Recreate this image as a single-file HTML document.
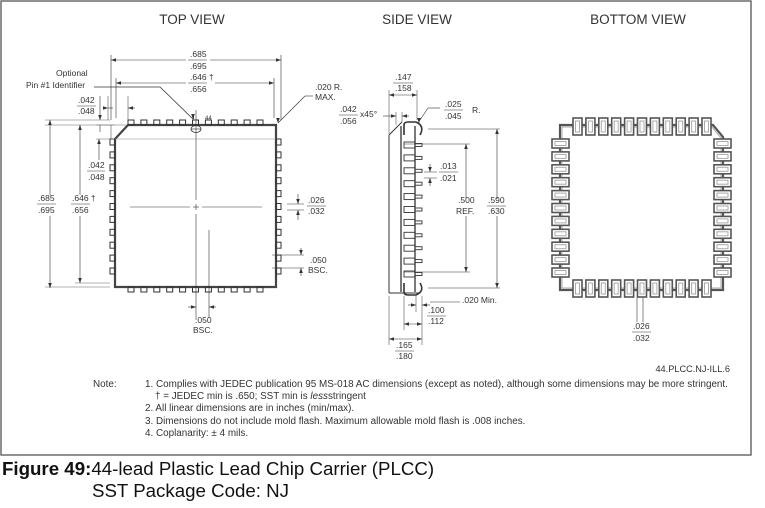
<!DOCTYPE html>
<html><head><meta charset="utf-8"><style>
body{margin:0;background:#fff;width:765px;height:508px;overflow:hidden;font-family:"Liberation Sans",sans-serif}
svg text{font-family:"Liberation Sans",sans-serif;fill:#333}
.s{font-size:8.5px}
.n{font-size:9.9px}
.cap{position:absolute;left:2px;font-size:18.7px;color:#111}
</style></head><body>
<svg id="d" width="765" height="508" style="position:absolute;left:0;top:0" xmlns="http://www.w3.org/2000/svg">
<rect x="1" y="1" width="750" height="454" fill="none" stroke="#555" stroke-width="1.3"/>
<g font-size="13">
<text x="192" y="24" text-anchor="middle" style="font-size:13.5px">TOP VIEW</text>
<text x="417" y="24" text-anchor="middle" style="font-size:13.5px">SIDE VIEW</text>
<text x="638" y="24" text-anchor="middle" style="font-size:13.5px">BOTTOM VIEW</text>
</g>
<g id="tv" stroke="#333" fill="none"></g>
<g id="sv" stroke="#333" fill="none"></g>
<g id="bv" fill="none"></g>
<g class="s">
<text x="190" y="57" class="s">.685</text><line x1="188" y1="60" x2="207" y2="60" stroke="#333" stroke-width=".6"/>
<text x="190" y="69" class="s">.695</text>
<text x="190" y="80" class="s">.646 †</text><line x1="188" y1="83" x2="207" y2="83" stroke="#333" stroke-width=".6"/>
<text x="190" y="92" class="s">.656</text>
<text x="56" y="76" class="s">Optional</text>
<text x="26" y="88" class="s">Pin #1 Identifier</text>
<text x="78" y="103" class="s">.042</text><line x1="77" y1="106" x2="96" y2="106" stroke="#333" stroke-width=".6"/>
<text x="78" y="114" class="s">.048</text>
<text x="88" y="168" class="s">.042</text><line x1="87" y1="171" x2="105" y2="171" stroke="#333" stroke-width=".6"/>
<text x="88" y="180" class="s">.048</text>
<text x="38" y="201" class="s">.685</text><line x1="37" y1="204" x2="56" y2="204" stroke="#333" stroke-width=".6"/>
<text x="38" y="213" class="s">.695</text>
<text x="72" y="201" class="s">.646 †</text><line x1="71" y1="204" x2="90" y2="204" stroke="#333" stroke-width=".6"/>
<text x="72" y="213" class="s">.656</text>
<text x="308" y="203" class="s">.026</text><line x1="307" y1="206" x2="326" y2="206" stroke="#333" stroke-width=".6"/>
<text x="308" y="214" class="s">.032</text>
<text x="310" y="263" class="s">.050</text>
<text x="308" y="273" class="s">BSC.</text>
<text x="195" y="323" class="s">.050</text>
<text x="193" y="333" class="s">BSC.</text>
<text x="315" y="90" class="s">.020 R.</text>
<text x="315" y="100" class="s">MAX.</text>
<text x="192" y="120" style="font-size:6px">1</text><text x="205" y="120" style="font-size:6px">44</text>
<text x="395" y="80" class="s">.147</text><line x1="393" y1="83" x2="413" y2="83" stroke="#333" stroke-width=".6"/>
<text x="395" y="91" class="s">.158</text>
<text x="340" y="112" class="s">.042</text><line x1="339" y1="115" x2="358" y2="115" stroke="#333" stroke-width=".6"/>
<text x="340" y="124" class="s">.056</text><text x="360" y="117" class="s">x45°</text>
<text x="445" y="107" class="s">.025</text><line x1="444" y1="110" x2="463" y2="110" stroke="#333" stroke-width=".6"/>
<text x="445" y="119" class="s">.045</text><text x="472" y="113" class="s">R.</text>
<text x="440" y="169" class="s">.013</text><line x1="439" y1="172" x2="458" y2="172" stroke="#333" stroke-width=".6"/>
<text x="440" y="181" class="s">.021</text>
<text x="458" y="203" class="s">.500</text><text x="456" y="214" class="s">REF.</text>
<text x="488" y="203" class="s">.590</text><line x1="487" y1="206" x2="506" y2="206" stroke="#333" stroke-width=".6"/>
<text x="488" y="214" class="s">.630</text>
<text x="462" y="303" class="s">.020 Min.</text>
<text x="428" y="313" class="s">.100</text><line x1="427" y1="316" x2="446" y2="316" stroke="#333" stroke-width=".6"/>
<text x="428" y="324" class="s">.112</text>
<text x="396" y="348" class="s">.165</text><line x1="395" y1="351" x2="414" y2="351" stroke="#333" stroke-width=".6"/>
<text x="396" y="359" class="s">.180</text>
<text x="633" y="329" class="s">.026</text><line x1="632" y1="332" x2="651" y2="332" stroke="#333" stroke-width=".6"/>
<text x="633" y="341" class="s">.032</text>
<text x="730" y="372" text-anchor="end" style="font-size:9.2px">44.PLCC.NJ-ILL.6</text>
<text x="93" y="387" class="n">Note:</text>
<text x="145" y="387" class="n">1. Complies with JEDEC publication 95 MS-018 AC dimensions (except as noted), although some dimensions may be more stringent.</text>
<text x="155" y="399" class="n">† =  JEDEC min is .650;   SST min is <tspan font-style="italic">less</tspan>stringent</text>
<text x="145" y="411" class="n">2. All linear dimensions are in inches (min/max).</text>
<text x="145" y="424" class="n">3. Dimensions do not include mold flash. Maximum allowable mold flash is .008 inches.</text>
<text x="145" y="436" class="n">4. Coplanarity: ± 4 mils.</text>
</g>
</svg>
<div class="cap" style="top:458px"><b>Figure 49:</b>44-lead Plastic Lead Chip Carrier (PLCC)</div>
<div class="cap" style="top:480px;left:92px">SST Package Code: NJ</div>
<script>
const NS="http://www.w3.org/2000/svg";
function el(g,t,a){const e=document.createElementNS(NS,t);for(const k in a)e.setAttribute(k,a[k]);document.getElementById(g).appendChild(e);return e;}
function L(g,x1,y1,x2,y2,w,c){return el(g,"line",{x1,y1,x2,y2,"stroke-width":w||0.8,stroke:c||"#333"});}
function A(g,x,y,dir){
 let p;const s=5,h=1.8;
 if(dir=="r")p=[[x,y],[x-s,y-h],[x-s,y+h]];if(dir=="l")p=[[x,y],[x+s,y-h],[x+s,y+h]];
 if(dir=="d")p=[[x,y],[x-h,y-s],[x+h,y-s]];if(dir=="u")p=[[x,y],[x-h,y+s],[x+h,y+s]];
 el(g,"polygon",{points:p.map(q=>q.join(",")).join(" "),fill:"#333",stroke:"none"});}
const g="tv";
el(g,"path",{d:"M115,139 L128,125 L276,125 L276,287 L115,287 Z","stroke-width":2.2,stroke:"#444"});
for(let i=0;i<11;i++){const x=128+i*12.9;
 el(g,"rect",{x:x,y:120,width:6,height:5,"stroke-width":1});
 el(g,"rect",{x:x,y:287,width:6,height:5,"stroke-width":1});
 const y=139+i*12.9;
 el(g,"rect",{x:110,y:y,width:5,height:6,"stroke-width":1});
 el(g,"rect",{x:276,y:y,width:5,height:6,"stroke-width":1});}
L(g,196,110,196,200,.6);L(g,196,214,196,320,.6);L(g,130,207,190,207,.6);L(g,202,207,262,207,.6);L(g,196,204,196,210,.6);L(g,193,207,199,207,.6);
el(g,"ellipse",{cx:196,cy:129,rx:5,ry:3.5,"stroke-width":.8});
L(g,191,129,201,129,.6);
L(g,111,55,111,120,.6);L(g,281,55,281,120,.6);L(g,116,78,116,118,.6);L(g,274,78,274,118,.6);
L(g,111,60,186,60,.6);L(g,210,60,281,60,.6);A(g,111,60,"l");A(g,281,60,"r");
L(g,116,83,186,83,.6);L(g,215,83,274,83,.6);A(g,116,83,"l");A(g,274,83,"r");
L(g,94,87,160,87,.8);L(g,160,87,193,119,.8);A(g,193,119,"d");
L(g,313,96,305,96,.6);L(g,305,96,278,123,.6);A(g,278,123,"d");
L(g,45,120,110,120,.5,"#666");L(g,45,125,126,125,.5,"#666");
L(g,100,96,100,120,.6);A(g,100,120,"d");L(g,100,125,100,132,.6);
L(g,108,96,108,120,.5);L(g,128,96,128,120,.5);L(g,113,108,108,108,.6);A(g,108,108,"r");L(g,128,108,135,108,.6);A(g,128,108,"l");
L(g,45,287,110,287,.5,"#666");L(g,75,283,110,283,.5,"#666");
L(g,50,120,50,195,.6);L(g,50,216,50,288,.6);A(g,50,120,"u");A(g,50,288,"d");
L(g,80,125,80,195,.6);L(g,80,216,80,283,.6);A(g,80,125,"u");A(g,80,283,"d");
L(g,96,139,115,139,.5,"#666");L(g,96,125,115,125,.5,"#666");
L(g,99,139,99,160,.6);A(g,99,139,"u");
L(g,115,139,276,139,.5,"#888");L(g,111,125,111,139,.5);
L(g,287,204,304,204,.5);L(g,287,210,304,210,.5);L(g,298,194,298,204,.6);A(g,298,204,"d");L(g,298,210,298,220,.6);A(g,298,210,"u");
L(g,272,255,304,255,.5);L(g,272,268,304,268,.5);L(g,301,248,301,255,.6);A(g,301,255,"d");L(g,301,268,301,276,.6);A(g,301,268,"u");
L(g,209,230,209,318,.6);L(g,188,307,196,307,.6);A(g,196,307,"r");L(g,209,307,216,307,.6);A(g,209,307,"l");
const s="sv";
L(s,389,135,389,293,1);L(s,389,135,402,122,1);L(s,389,293,420,293,1);
el(s,"path",{d:"M404,135 L404,125 Q404,122 408,122 L416,122 Q425,126 420,135","stroke-width":1.6});
el(s,"path",{d:"M404,283 L404,292 Q404,295 408,295 L416,295 Q425,291 420,283","stroke-width":1.6});
L(s,401,126,401,292,1.3);L(s,415,126,415,292,1.3);
for(let i=0;i<11;i++){const y=142+i*12.9;
 el(s,"rect",{x:404,y:y,width:11,height:6,"stroke-width":.9});
 el(s,"rect",{x:415,y:y+1.5,width:7,height:3,"stroke-width":.9});}
L(s,404,144,470,144,.5);L(s,404,272,470,272,.5);L(s,466,144,466,199,.6);L(s,466,216,466,272,.6);A(s,466,144,"u");A(s,466,272,"d");
L(s,428,129,500,129,.5);L(s,428,288,500,288,.5);L(s,497,129,497,199,.6);L(s,497,216,497,288,.6);A(s,497,129,"u");A(s,497,288,"d");
L(s,424,172,437,172,.5);L(s,424,178,437,178,.5);L(s,430,164,430,172,.6);A(s,430,172,"d");L(s,430,178,430,186,.6);A(s,430,178,"u");
L(s,389,90,389,134,.5);L(s,417,90,417,120,.5);L(s,389,95,417,95,.6);A(s,389,95,"l");A(s,417,95,"r");
L(s,396,112,396,125,.5);L(s,402,112,402,122,.5);L(s,383,116,396,116,.6);A(s,396,116,"r");L(s,402,116,409,116,.6);A(s,402,116,"l");
L(s,440,108,428,108,.6);L(s,428,108,418,123,.6);A(s,419,123,"d");
L(s,389,296,389,345,.5);L(s,422,296,422,345,.5);L(s,389,339,422,339,.6);A(s,389,339,"l");A(s,422,339,"r");
L(s,404,296,404,330,.5);L(s,422,324,404,324,.6);A(s,404,324,"l");A(s,422,324,"r");
L(s,416,296,416,312,.5);L(s,408,305,416,305,.6);A(s,416,305,"r");L(s,422,305,430,305,.6);A(s,422,305,"l");L(s,430,302,460,302,.6);
const b="bv";
el(b,"path",{d:"M560,125 L713,125 L723,137 L723,290 L560,290 Z",stroke:"#555","stroke-width":2.2});
el(b,"path",{d:"M562,127 L712,127 L721,138 L721,288 L562,288 Z",stroke:"#aaa","stroke-width":1});
for(let i=0;i<11;i++){const x=573+i*12.9,y=139+i*12.9;
 [[x,118,9,17],[x,280,9,17]].forEach(r=>{el(b,"rect",{x:r[0],y:r[1],width:r[2],height:r[3],stroke:"#555","stroke-width":1.6,fill:"#fff"});el(b,"rect",{x:r[0]+2.5,y:r[1]+3,width:4,height:r[3]-6,stroke:"#aaa","stroke-width":1});});
 [[552,y,17,9],[714,y,17,9]].forEach(r=>{el(b,"rect",{x:r[0],y:r[1],width:r[2],height:r[3],stroke:"#555","stroke-width":1.6,fill:"#fff"});el(b,"rect",{x:r[0]+3,y:r[1]+2.5,width:r[2]-6,height:4,stroke:"#aaa","stroke-width":1});});}
L(b,637,297,637,322,.7,"#555");L(b,643,297,643,322,.7,"#555");
</script>
</body></html>
